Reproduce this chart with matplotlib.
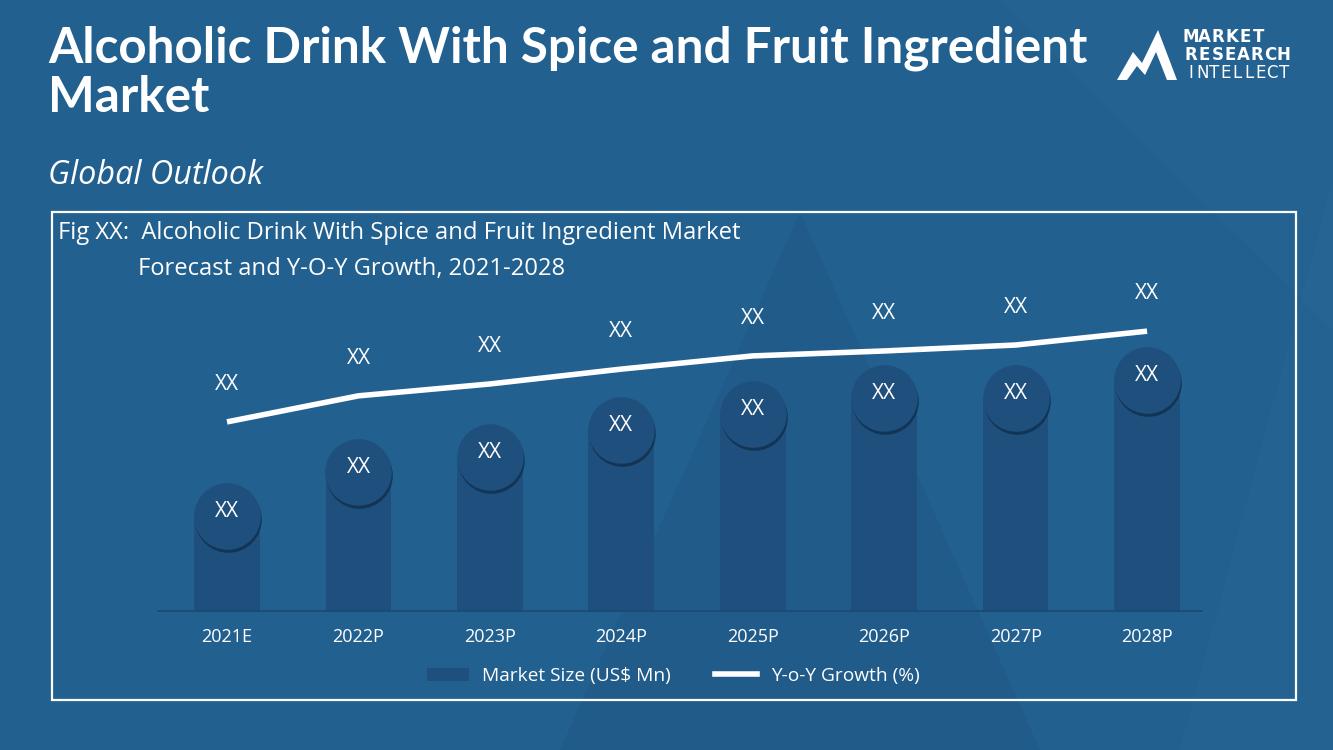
import matplotlib
matplotlib.use('Agg')
import matplotlib.pyplot as plt
import matplotlib.transforms as mtransforms
from matplotlib.patches import Rectangle, Polygon, Patch
from matplotlib.lines import Line2D

# chart data (arbitrary units)
years = ['2021E', '2022P', '2023P', '2024P', '2025P', '2026P', '2027P', '2028P']
market_size = [28.8, 42.1, 46.7, 54.8, 59.7, 64.5, 64.5, 70.0]
yoy_growth = [57.3, 65.2, 68.8, 73.3, 77.3, 78.8, 80.6, 84.8]
bar_labels = ['XX'] * 8
growth_labels = ['XX'] * 8

BG = '#22608f'
BAR = '#1e4f7d'
SHADOW = '#0f2e4c'
FONT = 'Open Sans'

plt.rcParams['font.family'] = [FONT, 'DejaVu Sans']

fig = plt.figure(figsize=(13.33, 7.5), dpi=100)
fig.patch.set_facecolor(BG)

# background decoration in pixel space
bg = fig.add_axes([0, 0, 1, 1], zorder=-10)
bg.set_xlim(0, 1333)
bg.set_ylim(750, 0)
bg.axis('off')
bg.add_patch(Polygon([(800, 212), (560, 750), (1040, 750)], closed=True,
                     facecolor='#1c4f7c', alpha=0.25, lw=0))
bg.add_patch(Polygon([(1000, 0), (1333, 0), (1333, 330)], closed=True,
                     facecolor='#2a6a9a', alpha=0.25, lw=0))
bg.add_patch(Polygon([(1333, 180), (1333, 750), (1180, 750)], closed=True,
                     facecolor='#2a6a9a', alpha=0.25, lw=0))

# logo
bg.add_patch(Polygon([(1117, 80), (1133, 52), (1142, 63), (1158, 30), (1177, 80),
                      (1167, 80), (1156, 52), (1145, 75), (1137, 66), (1127, 80)],
                     closed=True, facecolor='white', lw=0))
for word, y, step, wt in [('MARKET', 37, 13.6, 'bold'), ('RESEARCH', 55, 13.2, 'bold'),
                          ('INTELLECT', 73, 11.6, 'normal')]:
    for i, ch in enumerate(word):
        bg.text(1191 + i * step, y, ch, color='white', fontsize=12, fontweight=wt,
                ha='center', va='center', family='DejaVu Sans')

# titles
t1 = fig.text(48 / 1333, 1 - 48 / 750, 'Alcoholic Drink With Spice and Fruit Ingredient',
              color='white', fontsize=33, fontweight='bold', va='center', family='Lato')
t2 = fig.text(48 / 1333, 1 - 98 / 750, 'Market', color='white', fontsize=33,
              fontweight='bold', va='center', family='Lato')
t3 = fig.text(48 / 1333, 1 - 175 / 750, 'Global Outlook', color='white', fontsize=22,
              style='italic', va='center')
t4 = fig.text(58 / 1333, 1 - 233 / 750,
              'Fig XX:  Alcoholic Drink With Spice and Fruit Ingredient Market',
              color='white', fontsize=16, va='center')
t5 = fig.text(138 / 1333, 1 - 269 / 750, 'Forecast and Y-O-Y Growth, 2021-2028',
              color='white', fontsize=16, va='center')

# frame
fig.patches.append(Rectangle((52 / 1333, 50 / 750), 1244 / 1333, 488 / 750,
                             transform=fig.transFigure, fill=False,
                             edgecolor='white', lw=1.6))

# main axes
ax = fig.add_axes([158 / 1333, 139 / 750, 1044 / 1333, 330 / 750])
ax.set_facecolor('none')
x = list(range(len(years)))
ax.bar(x, market_size, width=0.5, color=BAR, zorder=2)

shadow_tr = mtransforms.offset_copy(ax.transData, fig=fig, x=1, y=-3, units='dots')
ax.scatter(x, market_size, s=2300, color=SHADOW, alpha=0.8, lw=0, zorder=3,
           transform=shadow_tr)
ax.scatter(x, market_size, s=2300, color=BAR, lw=0, zorder=4)
for xi, v, lab in zip(x, market_size, bar_labels):
    ax.annotate(lab, (xi, v), xytext=(0, 3), textcoords='offset points',
                ha='center', va='center', color='white', fontsize=15, zorder=5)

ax.plot(x, yoy_growth, color='white', lw=4, solid_capstyle='butt', zorder=6)
for xi, v, lab in zip(x, yoy_growth, growth_labels):
    ax.annotate(lab, (xi, v), xytext=(0, 27), textcoords='offset points',
                ha='center', va='center', color='white', fontsize=15, zorder=6)

ax.set_xlim(-0.525, 7.418)
ax.set_ylim(0, 100)
ax.set_xticks(x)
ax.set_xticklabels(years, color='white', fontsize=13)
ax.tick_params(axis='x', length=0, pad=12)
ax.set_yticks([])
for s in ['top', 'left', 'right']:
    ax.spines[s].set_visible(False)
ax.spines['bottom'].set_color('#1b4a75')
ax.spines['bottom'].set_linewidth(1.2)

handles = [Patch(facecolor=BAR, edgecolor='none', label='Market Size (US$ Mn)'),
           Line2D([0], [0], color='white', lw=4, label='Y-o-Y Growth (%)')]
leg = fig.legend(handles=handles, loc='center', bbox_to_anchor=(673 / 1333, 74 / 750),
                 ncol=2, frameon=False, fontsize=13.8, handlelength=2.2,
                 handleheight=0.7, handletextpad=0.7, columnspacing=2.3)
for txt in leg.get_texts():
    txt.set_color('white')

# fit text widths to the reference
fig.canvas.draw()
scale = 1040 / t1.get_window_extent().width
t1.set_fontsize(33 * scale)
t2.set_fontsize(33 * scale)
t3.set_fontsize(22 * 215 / t3.get_window_extent().width)
s4 = 16 * 682 / t4.get_window_extent().width
t4.set_fontsize(s4)
t5.set_fontsize(s4)

fig.savefig('out.png', dpi=100, facecolor=BG)
